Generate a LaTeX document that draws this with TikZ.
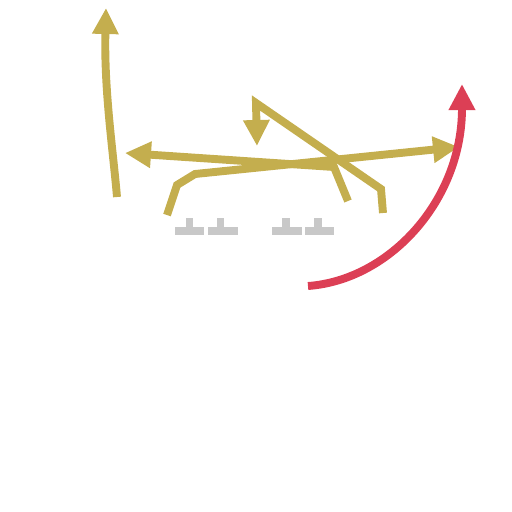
\documentclass[tikz,border=0pt]{standalone}
\usetikzlibrary{arrows.meta}
\definecolor{routegold}{HTML}{C4AE4E}
\definecolor{routered}{HTML}{DC3F55}
\definecolor{blockgray}{HTML}{C8C8C8}
\tikzset{
  route/.style={line width=4.5pt, routegold, line join=miter, -{Triangle[length=0.52cm,width=0.5cm]}},
  hotroute/.style={line width=4.5pt, routered, -{Triangle[length=0.52cm,width=0.5cm]}},
  blocker/.style={fill=blockgray, draw=none}
}
\begin{document}
\begin{tikzpicture}[x=0.02cm,y=-0.02cm]
\useasboundingbox (0,0) rectangle (512,512);
%\draw[step=32,gray,very thin] (0,0) grid (512,512); %background grid

% linemen
\fill[blocker] (175,227) rectangle (204,235); \fill[blocker] (186,218) rectangle (193,227);
\fill[blocker] (208,227) rectangle (238,235); \fill[blocker] (217,218) rectangle (224,227);
\fill[blocker] (272,227) rectangle (302,235); \fill[blocker] (282,218) rectangle (290,227);
\fill[blocker] (305,227) rectangle (334,235); \fill[blocker] (314,218) rectangle (322,227);

% gold routes
\draw[route] (117,197) .. controls (113,150) and (104,90) .. (106,8);
\draw[route] (348,201) -- (334,167) -- (125,153);
\draw[route] (167,215) -- (177,185) -- (195,174) -- (459,147);
\draw[route] (383,213) -- (381,189) -- (256,103) -- (257,146);

% red route
\draw[hotroute] (308,286) .. controls (390,280) and (462,200) .. (462,84);
\end{tikzpicture}
\end{document}
